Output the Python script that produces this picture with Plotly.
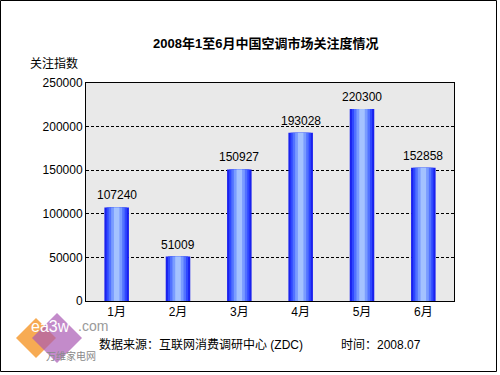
import plotly.graph_objects as go

months = ["1月", "2月", "3月", "4月", "5月", "6月"]
values = [107240, 51009, 150927, 193028, 220300, 152858]
y_ticks = [0, 50000, 100000, 150000, 200000, 250000]

FONT = "Liberation Sans, Arial, Noto Sans CJK SC, sans-serif"

W, H = 500, 375
L, R, T, B = 86, 46, 83, 74
pw, ph = W - L - R, H - T - B

def px(x):
    return (x - L) / pw

def py(y):
    return (H - B - y) / ph

fig = go.Figure()
layers = [(0.40, "#1a22ee"), (0.33, "#2f48ff"), (0.26, "#5272ff"), (0.18, "#7a9cff"), (0.09, "#a4c2ff")]
for w, c in layers:
    fig.add_trace(go.Bar(x=months, y=values, width=w, marker=dict(color=c, line=dict(width=0)),
                         hoverinfo="skip", showlegend=False))

for m, v in zip(months, values):
    fig.add_annotation(x=m, y=v, text=str(v), showarrow=False, yanchor="bottom", yshift=3,
                       font=dict(family=FONT, size=12, color="black"))

fig.update_layout(
    width=W, height=H, autosize=False,
    margin=dict(l=L, r=R, t=T, b=B),
    barmode="overlay",
    paper_bgcolor="white",
    plot_bgcolor="#e9e9e9",
    font=dict(family=FONT, size=12, color="black"),
    xaxis=dict(showline=True, linecolor="black", linewidth=1, mirror=True, ticks="",
               tickfont=dict(size=12), showgrid=False),
    yaxis=dict(range=[0, 250000], tickvals=y_ticks, ticktext=[str(v) for v in y_ticks],
               showline=True, linecolor="black", linewidth=1, mirror=True, ticks="",
               showgrid=True, gridcolor="black", griddash="3px,2px", gridwidth=1,
               tickfont=dict(size=12), zeroline=False),
)

fig.add_annotation(text="<b>2008年1至6月中国空调市场关注度情况</b>", xref="paper", yref="paper",
                   x=px(265), y=py(34), showarrow=False, font=dict(size=13, family=FONT))
fig.add_annotation(text="关注指数", xref="paper", yref="paper", x=px(28), y=py(54),
                   xanchor="left", showarrow=False, font=dict(size=12, family=FONT))
fig.add_annotation(text="数据来源：互联网消费调研中心 (ZDC)", xref="paper", yref="paper",
                   x=px(97), y=py(354), xanchor="left", showarrow=False, font=dict(size=12, family=FONT))
fig.add_annotation(text="时间：2008.07", xref="paper", yref="paper",
                   x=px(339), y=py(354), xanchor="left", showarrow=False, font=dict(size=12, family=FONT))

# logo watermark
def diamond(cx, cy, r):
    pts = [(cx, cy - r), (cx + r, cy), (cx, cy + r), (cx - r, cy)]
    return "M " + " L ".join(f"{px(a)},{py(b)}" for a, b in pts) + " Z"

fig.add_shape(type="path", xref="paper", yref="paper", path=diamond(36, 338, 20),
              fillcolor="rgba(245,150,40,0.8)", line=dict(width=0))
fig.add_shape(type="path", xref="paper", yref="paper", path=diamond(57, 338, 25),
              fillcolor="rgba(170,90,180,0.7)", line=dict(width=0))
fig.add_annotation(text="ea3w", xref="paper", yref="paper", x=px(29), y=py(337), xanchor="left",
                   showarrow=False, font=dict(size=16, color="white", family=FONT))
fig.add_annotation(text=".com", xref="paper", yref="paper", x=px(76), y=py(336), xanchor="left",
                   showarrow=False, font=dict(size=14, color="#9a9a9a", family=FONT))
fig.add_annotation(text="万维家电网", xref="paper", yref="paper", x=px(44), y=py(364), xanchor="left",
                   showarrow=False, font=dict(size=10, color="#8a8a8a", family=FONT))

# outer frame
fig.add_shape(type="rect", xref="paper", yref="paper", x0=px(0.5), x1=px(496.5), y0=py(371.5), y1=py(0.5),
              line=dict(color="black", width=1), fillcolor="rgba(0,0,0,0)", layer="below")

fig.write_html("out.html", config={"displayModeBar": False},
               post_script="document.body.style.margin='0';document.body.style.padding='0';")
